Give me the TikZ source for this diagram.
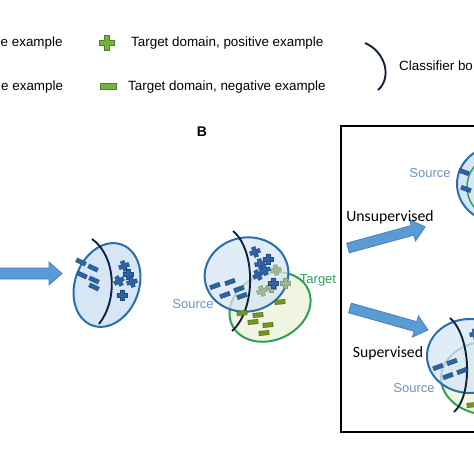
\documentclass[tikz,border=0pt]{standalone}
\usepackage{fontspec}
\setmainfont{Liberation Sans}
\newfontfamily\carlitofont{Carlito}
\definecolor{symblue}{HTML}{2D62A3}
\definecolor{barolive}{HTML}{7A9620}
\definecolor{barolivedark}{HTML}{4F6A12}
\definecolor{fadegreen}{HTML}{9DB792}
\definecolor{leggreen}{HTML}{74B13F}
\definecolor{leggreendark}{HTML}{4E7F2A}
\definecolor{ellblue}{HTML}{2A6DB0}
\definecolor{ellfill}{HTML}{D6E6F5}
\definecolor{ellgreen}{HTML}{2FA05A}
\definecolor{gfill}{HTML}{EFF5E1}
\definecolor{arccol}{HTML}{14213D}
\definecolor{arrowfill}{HTML}{5B9BD5}
\definecolor{arrowline}{HTML}{4A80B8}
\definecolor{srccol}{HTML}{6A97C4}
\definecolor{tgtcol}{HTML}{33A35E}
\tikzset{
  pics/crossmark/.style={code={\filldraw[#1] (-2,-5.2) -- (2,-5.2) -- (2,-2) -- (5.2,-2) -- (5.2,2) -- (2,2) -- (2,5.2) -- (-2,5.2) -- (-2,2) -- (-5.2,2) -- (-5.2,-2) -- (-2,-2) -- cycle;}},
  pics/barmark/.style={code={\filldraw[#1] (-5,-2.1) rectangle (5,2.1);}},
  bsym/.style={fill=symblue,draw=symblue!75!black,line width=0.4pt},
  gsym/.style={fill=barolive,draw=barolivedark,line width=0.6pt},
  fsym/.style={fill=fadegreen,draw=fadegreen!85!black,line width=0.4pt},
  lgsym/.style={fill=leggreen,draw=leggreendark,line width=1pt},
  blueell/.style={fill=ellfill,draw=ellblue,line width=2pt},
  greenell/.style={fill=gfill,draw=ellgreen,line width=2pt},
  bound/.style={draw=arccol,line width=1.9pt},
  barrow/.style={fill=arrowfill,draw=arrowline,line width=0.8pt},
  legtext/.style={font=\fontsize{13.4}{15}\selectfont,inner sep=0pt},
  srctext/.style={font=\fontsize{13}{15}\selectfont,text=srccol,inner sep=0pt},
  tgttext/.style={font=\fontsize{13}{15}\selectfont,text=tgtcol,inner sep=0pt},
  caltext/.style={font=\carlitofont\fontsize{15.7}{18}\selectfont,inner sep=0pt},
}
\newcommand{\blockarrow}[6]{%
  \begin{scope}[shift={(#1,#2)},rotate=#3]
    \filldraw[barrow] (0,-#5) -- ({#4-13},-#5) -- ({#4-13},-#6) -- (#4,0) -- ({#4-13},#6) -- ({#4-13},#5) -- (0,#5) -- cycle;
  \end{scope}}
\begin{document}
\begin{tikzpicture}[x=1pt,y=-1pt]
\useasboundingbox (0,0) rectangle (474,474);
\fill[white] (0,0) rectangle (474,474);
\clip (0,0) rectangle (474,474);

% ---------- legend ----------
\node[legtext,anchor=west] (l1) at (0.5,43) {e example};
\node[legtext,anchor=west] (l2) at (1,87) {e example};
\filldraw[lgsym] (104.5,35) -- (109.5,35) -- (109.5,40) -- (114.5,40) -- (114.5,45) -- (109.5,45) -- (109.5,50) -- (104.5,50) -- (104.5,45) -- (99.5,45) -- (99.5,40) -- (104.5,40) -- cycle;
\filldraw[lgsym] (100,83) rectangle (116,89);
\node[legtext,anchor=west] (l3) at (131,43) {Target domain, positive example};
\node[legtext,anchor=west] (l4) at (128,87) {Target domain, negative example};
\draw[bound] (365,43) .. controls (386,52) and (392,78) .. (378,90);
\node[legtext,anchor=west] (l5) at (399,66) {Classifier bo};

% ---------- panel label ----------
\node[font=\bfseries\fontsize{14}{16}\selectfont,inner sep=0pt] (B) at (202,132) {B};

% ---------- box ----------
\draw[line width=2pt] (341,126) rectangle (490,432);

% ---------- left arrow ----------
\blockarrow{-5}{273.5}{0}{67}{5.5}{11.5}

% ---------- left circle ----------
\draw[blueell,rotate around={-20:(107,285)}] (107,285) ellipse [x radius=32,y radius=43];
\foreach \p in {(81,262),(93,268),(82,275),(94,280),(94,287)}
  \pic[rotate=-25] at \p {barmark=bsym};
\pic[rotate=20] at (124,266) {crossmark=bsym};
\pic[rotate=0] at (128,274) {crossmark=bsym};
\pic[rotate=30] at (119,281) {crossmark=bsym};
\pic[rotate=15] at (132,282) {crossmark=bsym};
\pic[rotate=0] at (122,295) {crossmark=bsym};
\draw[bound] (92,239) .. controls (116,256) and (118,300) .. (99,324);

% ---------- middle ----------
\draw[greenell,rotate around={25:(270,307)}] (270,307) ellipse [x radius=42,y radius=33];
\fill[ellfill,opacity=0.75,rotate around={10:(246.5,274.5)}] (246.5,274.5) ellipse [x radius=42,y radius=37];
\draw[ellblue,line width=2pt,rotate around={10:(246.5,274.5)}] (246.5,274.5) ellipse [x radius=42,y radius=37];
\draw[bound] (233,231) .. controls (256,250) and (256,310) .. (232,331);
\foreach \p/\r in {(276,270)/10,(285,283)/0,(262,291)/20,(271,287)/0}
  \pic[rotate=\r] at \p {crossmark=fsym};
\foreach \p/\r in {(255,252)/20,(268,259)/0,(260,264)/10,(258,275)/30,(273,283)/0,(265,270)/15}
  \pic[rotate=\r] at \p {crossmark=bsym};
\foreach \p in {(215,286),(230,282),(225,295),(239,289),(242,296)}
  \pic[rotate=20] at \p {barmark=bsym};
\foreach \p in {(280,302),(258,315),(253,322),(268,325),(264,333),(242,313)}
  \pic[rotate=5] at \p {barmark=gsym};
\node[tgttext] (tgt) at (318,280) {Target};
\node[srctext] (src1) at (193,304) {Source};

% ---------- right box: unsupervised ----------
\blockarrow{348}{248}{15.3}{80}{5}{11}
\node[caltext] (uns) at (390,217) {Unsupervised};
\node[srctext] (src2) at (430,173) {Source};
\draw[blueell] (500,184) ellipse [x radius=43,y radius=39];
\draw[ellgreen,line width=1.5pt] (503,187) ellipse [x radius=36,y radius=34];
\pic[rotate=-20] at (464,172) {barmark=bsym};
\pic[rotate=-20] at (466,189) {barmark=bsym};

% ---------- right box: supervised ----------
\blockarrow{350}{308}{-15.75}{81}{5}{11}
\node[caltext] (sup) at (388,353) {Supervised};
\node[srctext] (src3) at (414,388) {Source};
\draw[greenell] (490,378) ellipse [x radius=49,y radius=37];
\fill[ellfill,opacity=0.75] (470,356) ellipse [x radius=43,y radius=37];
\draw[ellblue,line width=2pt] (470,356) ellipse [x radius=43,y radius=37];
\draw[bound] (450,318) .. controls (471,336) and (473,395) .. (454,412);
\foreach \p in {(438,367),(452,362),(448,376),(462,371)}
  \pic[rotate=20] at \p {barmark=bsym};
\pic[rotate=5] at (472,405) {barmark=gsym};
\pic[rotate=10] at (475,334) {crossmark=bsym};
\end{tikzpicture}
\end{document}
